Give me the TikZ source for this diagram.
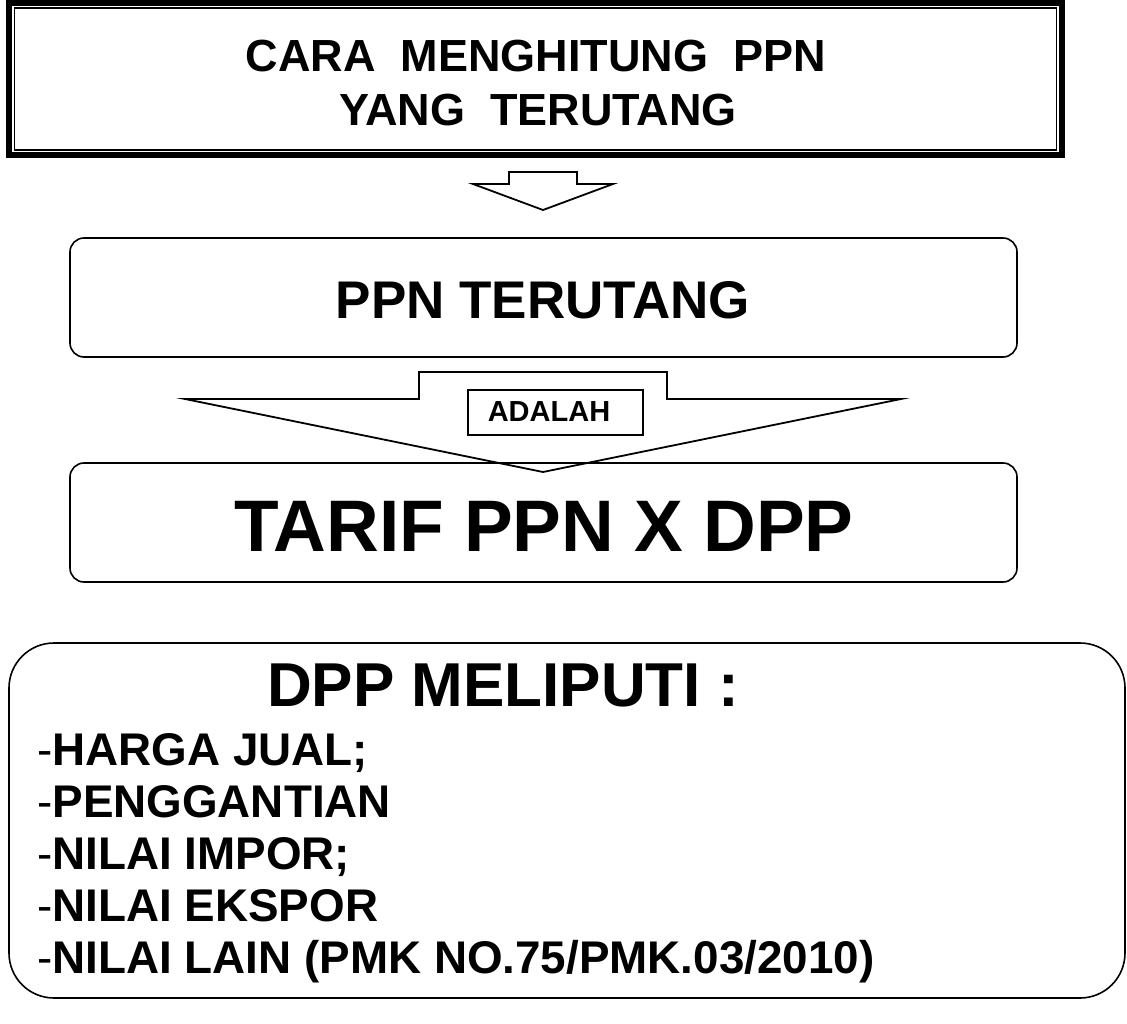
\documentclass[tikz,border=0pt]{standalone}
\usepackage{fontspec}
\setmainfont{Liberation Sans}
\begin{document}
\begin{tikzpicture}[x=1pt,y=-1pt,
  rbox/.style={draw,line width=1.6pt,rounded corners=14pt},
  blockarrow/.style={draw,line width=1.8pt,line join=miter},
  txt/.style={inner sep=0pt,anchor=base},
  titletxt/.style={txt,font=\fontsize{45}{50}\selectfont\bfseries},
  listtxt/.style={inner sep=0pt,anchor=base west,font=\fontsize{45.8}{50}\selectfont\bfseries}]
\useasboundingbox (0,0) rectangle (1127,1024);
% title frame
\draw[line width=6pt] (9,3) rectangle (1062,155);
\draw[line width=1.6pt] (14.5,8) rectangle (1056.5,150);
\node[titletxt] (title1) at (536,72) {CARA\ \ MENGHITUNG\ \ PPN};
\node[titletxt] (title2) at (538,126) {YANG\ \ TERUTANG};
% small arrow
\draw[blockarrow] (509,172) -- (577,172) -- (577,184) -- (613,184) -- (543,210) -- (473,184) -- (509,184) -- cycle;
% box 2
\draw[rbox] (70,238) rectangle (1017,357);
\node[txt,font=\fontsize{53}{60}\selectfont\bfseries] (ppn) at (543,319) {PPN TERUTANG};
% big arrow
\draw[blockarrow] (419,372) -- (667,372) -- (667,399) -- (901,399) -- (543,472) -- (185,399) -- (419,399) -- cycle;
\draw[line width=1.6pt] (468,390) rectangle (643,435);
\node[txt,font=\fontsize{29}{32}\selectfont\bfseries] (adalah) at (549,421.5) {ADALAH};
% box 3
\draw[rbox] (70,463) rectangle (1017,582);
\node[txt,font=\fontsize{73}{80}\selectfont\bfseries] (tarif) at (544,551) {TARIF PPN X DPP};
% box 4
\draw[rbox,rounded corners=45pt] (9,643) rectangle (1125,998);
\node[txt,font=\fontsize{62}{70}\selectfont\bfseries] (dpp) at (503,706) {DPP MELIPUTI :};
\node[listtxt] (l1) at (37,765) {{\mdseries -}HARGA JUAL;};
\node[listtxt] (l2) at (37,817) {{\mdseries -}PENGGANTIAN};
\node[listtxt] (l3) at (37,869) {{\mdseries -}NILAI IMPOR;};
\node[listtxt] (l4) at (37,921) {{\mdseries -}NILAI EKSPOR};
\node[listtxt] (l5) at (37,973) {{\mdseries -}NILAI LAIN (PMK NO.75/PMK.03/2010)};
\end{tikzpicture}
\end{document}
